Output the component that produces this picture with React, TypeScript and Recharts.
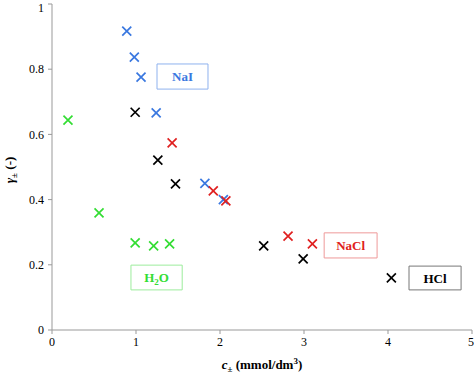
import React from 'react';
import { ScatterChart, Scatter, XAxis, YAxis, ReferenceArea } from 'recharts';

const naiX = [0.89, 0.98, 1.06, 1.24, 1.82, 2.04];
const naiY = [0.917, 0.837, 0.776, 0.666, 0.45, 0.40];
const naclX = [1.43, 1.92, 2.07, 2.81, 3.10];
const naclY = [0.574, 0.427, 0.396, 0.288, 0.264];
const hclX = [0.99, 1.26, 1.47, 2.52, 2.99, 4.04];
const hclY = [0.668, 0.521, 0.448, 0.258, 0.218, 0.16];
const h2oX = [0.19, 0.56, 0.99, 1.21, 1.40];
const h2oY = [0.644, 0.359, 0.267, 0.258, 0.264];

const xTicks = [0, 1, 2, 3, 4, 5];
const yTicks = [0, 0.2, 0.4, 0.6, 0.8, 1];

const FONT = '"Liberation Serif", "Times New Roman", serif';

const toPoints = (xs: number[], ys: number[]) => xs.map((x, i) => ({ x, y: ys[i] }));

const cross = (color: string) => (props: any) => {
  const { cx, cy } = props;
  const s = 4.5;
  return (
    <path
      d={`M${cx - s},${cy - s}L${cx + s},${cy + s}M${cx - s},${cy + s}L${cx + s},${cy - s}`}
      stroke={color}
      strokeWidth={1.7}
      fill="none"
    />
  );
};

const boxLabel = (text: React.ReactNode, color: string) => (props: any) => {
  const vb = props.viewBox || {};
  const cx = vb.x + vb.width / 2;
  const cy = vb.y + vb.height / 2;
  return (
    <text x={cx} y={cy} dy="0.35em" textAnchor="middle" fill={color} fontFamily={FONT} fontWeight="bold" fontSize={13}>
      {text}
    </text>
  );
};

const XLabel = () => (
  <text x={262} y={369} textAnchor="middle" fontFamily={FONT} fontWeight="bold" fontSize={13} fill="#000">
    <tspan fontStyle="italic">c</tspan>
    <tspan fontSize={9} dy={3}>±</tspan>
    <tspan dy={-3}> (mmol/dm</tspan>
    <tspan fontSize={9} dy={-5}>3</tspan>
    <tspan dy={5}>)</tspan>
  </text>
);

const YLabel = () => (
  <text x={14} y={170} transform="rotate(-90, 14, 170)" textAnchor="middle" fontFamily={FONT} fontWeight="bold" fontSize={13} fill="#000">
    <tspan fontStyle="italic">γ</tspan>
    <tspan fontSize={9} dy={3}>±</tspan>
    <tspan dy={-3}> (-)</tspan>
  </text>
);

export default function App() {
  return (
    <div style={{ position: 'absolute', left: 0, top: 0, background: '#fff' }}>
      <ScatterChart width={474} height={375} margin={{ top: 4, right: 2, bottom: 5, left: 0 }}>
        <XAxis
          type="number"
          dataKey="x"
          domain={[0, 5]}
          ticks={xTicks}
          height={40}
          tickSize={4}
          tickMargin={3}
          axisLine={{ stroke: '#999' }}
          tickLine={{ stroke: '#999' }}
          tick={{ fill: '#000', fontSize: 12, fontFamily: FONT }}
          label={<XLabel />}
        />
        <YAxis
          type="number"
          dataKey="y"
          domain={[0, 1]}
          ticks={yTicks}
          width={52}
          tickSize={4}
          tickMargin={4}
          axisLine={{ stroke: '#999' }}
          tickLine={{ stroke: '#999' }}
          tick={{ fill: '#000', fontSize: 12, fontFamily: FONT }}
          label={<YLabel />}
        />
        <ReferenceArea x1={1.25} x2={1.857} y1={0.739} y2={0.816} fill="#fff" fillOpacity={1} stroke="#8fb2ee" strokeWidth={1} label={boxLabel('NaI', '#3a78e0')} />
        <ReferenceArea x1={0.94} x2={1.55} y1={0.123} y2={0.199} fill="#fff" fillOpacity={1} stroke="#9cec9c" strokeWidth={1} label={boxLabel(<>H<tspan fontSize={9} dy={3}>2</tspan><tspan dy={-3}>O</tspan></>, '#33dd33')} />
        <ReferenceArea x1={3.24} x2={3.87} y1={0.221} y2={0.298} fill="#fff" fillOpacity={1} stroke="#ee9999" strokeWidth={1} label={boxLabel('NaCl', '#e02020')} />
        <ReferenceArea x1={4.25} x2={4.87} y1={0.123} y2={0.196} fill="#fff" fillOpacity={1} stroke="#777" strokeWidth={1} label={boxLabel('HCl', '#000')} />
        <Scatter data={toPoints(h2oX, h2oY)} fill="#33dd33" shape={cross('#33dd33')} isAnimationActive={false} />
        <Scatter data={toPoints(hclX, hclY)} fill="#000" shape={cross('#000')} isAnimationActive={false} />
        <Scatter data={toPoints(naiX, naiY)} fill="#3a78e0" shape={cross('#3a78e0')} isAnimationActive={false} />
        <Scatter data={toPoints(naclX, naclY)} fill="#e02020" shape={cross('#e02020')} isAnimationActive={false} />
      </ScatterChart>
    </div>
  );
}
